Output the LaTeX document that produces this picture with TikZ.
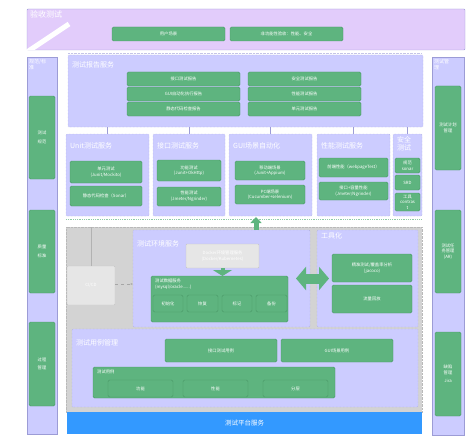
\documentclass[tikz,border=0pt]{standalone}
\usepackage{fontspec}
\setmainfont{Noto Sans CJK SC}
\usepackage{xcolor}
\usepackage{tikz}
\usetikzlibrary{arrows.meta, positioning, fit}
\definecolor{C_ACC} {HTML}{E2CCFB}
\definecolor{C_LAV} {HTML}{CCCCFF}
\definecolor{C_LAVB}{HTML}{9C9CD6}
\definecolor{C_GRN} {HTML}{5EB47F}
\definecolor{C_GRNB}{HTML}{4A9867}
\definecolor{C_GRY} {HTML}{D3D3D3}
\definecolor{C_LGRY}{HTML}{E6E6E6}
\definecolor{C_BLU} {HTML}{3399FF}
\tikzset{
  %% -- every box is placed by its top-left corner --
  arch/base/.style={anchor=north west, inner sep=0pt, outer sep=0pt, align=center},
  %% -- lavender panel --
  arch/panel/.style={arch/base, fill=C_LAV, draw=C_LAVB, densely dotted, rounded corners=1pt},
  %% -- side column --
  arch/col/.style={arch/base, fill=C_LAV, draw=C_LAVB, thin},
  %% -- green service box --
  arch/grn/.style={arch/base, fill=C_GRN, draw=C_GRNB, thin, rounded corners=1.5pt,
    text=white, font=\fontsize{4.3pt}{5.6pt}\selectfont},
  %% -- grey box --
  arch/gry/.style={arch/base, fill=C_LGRY, draw=gray!45, thin, rounded corners=1pt,
    text=white, font=\fontsize{4.3pt}{5.6pt}\selectfont},
  %% -- panel title --
  arch/ttl/.style={anchor=north west, inner sep=0pt, text=white, align=left,
    font=\fontsize{7pt}{8.4pt}\selectfont},
  %% -- small caption inside a green container --
  arch/cap/.style={anchor=north west, inner sep=0pt, text=white, align=left,
    font=\fontsize{4.3pt}{5.2pt}\selectfont},
  %% -- fat green arrow --
  arch/blk/.style={C_GRN, line width=5pt, -{Triangle[width=11pt, length=6pt]}},
  arch/dblk/.style={C_GRN, line width=10pt,
    {Triangle[width=23pt, length=10pt]}-{Triangle[width=23pt, length=10pt]}},
  arch/tick/.style={draw=C_LAVB, thin},
}

\begin{document}
\begin{tikzpicture}[x=1pt, y=-1pt]
\useasboundingbox (0,0) rectangle (474,444);

%% ── Acceptance band ───────────────────────────────────────────────────────
\node[arch/panel, fill=C_ACC, solid, minimum width=438pt, minimum height=41pt] (acc) at (27,9) {};
\begin{scope}
  \clip (acc.south west) rectangle (acc.north east);
  \draw[white, line width=5pt] ([yshift=-2pt]acc.south west) -- ++(42,-28);
\end{scope}
\node[arch/ttl, font=\fontsize{8pt}{9pt}\selectfont] (accT) at ([shift={(3,2)}]acc.north west) {验收测试};
\node[arch/grn, minimum width=113pt, minimum height=14pt] (usr) at (112,27) {用户场景};
\node[arch/grn, minimum width=113pt, minimum height=14pt] (nfr) at (230,27) {非功能性验收：性能、安全};

%% ── Side columns ──────────────────────────────────────────────────────────
\node[arch/col, minimum width=30pt, minimum height=377pt] (std) at (27,57) {};
\node[arch/ttl, font=\fontsize{5pt}{6pt}\selectfont] at ([shift={(2,2)}]std.north west) {规范/标\\准};
\node[arch/grn, minimum width=26pt, minimum height=83pt] (std1) at (29,96) {测试\\[3pt]规范};
\node[arch/grn, minimum width=26pt, minimum height=83pt] (std2) at (29,210) {质量\\[3pt]标准};
\node[arch/grn, minimum width=26pt, minimum height=84pt] (std3) at (29,322) {过程\\[3pt]管理};

\node[arch/col, minimum width=32pt, minimum height=378pt] (mgr) at (432,57) {};
\node[arch/ttl, font=\fontsize{5pt}{6pt}\selectfont] at ([shift={(2,2)}]mgr.north west) {测试管\\理};
\node[arch/grn, minimum width=26pt, minimum height=84pt] (mgr1) at (435,86) {测试计划\\管理};
\node[arch/grn, minimum width=26pt, minimum height=83pt] (mgr2) at (435,210) {测试任\\务管理\\(AR)};
\node[arch/grn, minimum width=26pt, minimum height=84pt] (mgr3) at (435,332) {缺陷\\管理\\[3pt]Jira};

%% ── Test report service ──────────────────────────────────────────────────
\draw[C_LAVB!60, densely dotted] (68,53) -- (422,53);
\node[arch/panel, minimum width=355pt, minimum height=72pt] (rep) at (68,55) {};
\node[arch/ttl] at ([shift={(4,6)}]rep.north west) {测试报告服务};
\node[arch/grn, minimum width=113pt, minimum height=14pt] (rep1) at (127,72)  {接口测试报告};
\node[arch/grn, minimum width=113pt, minimum height=14pt] (rep2) at (127,87)  {GUI自动化执行报告};
\node[arch/grn, minimum width=113pt, minimum height=14pt] (rep3) at (127,102) {静态代码检查报告};
\node[arch/grn, minimum width=113pt, minimum height=14pt] (rep4) at (248,72)  {安全测试报告};
\node[arch/grn, minimum width=113pt, minimum height=14pt] (rep5) at (248,87)  {性能测试报告};
\node[arch/grn, minimum width=113pt, minimum height=14pt] (rep6) at (248,102) {单元测试报告};

%% ── Service row ───────────────────────────────────────────────────────────
\node[arch/panel, minimum width=83pt, minimum height=82pt] (unit) at (66,134) {};
\node[arch/ttl] at ([shift={(4,8)}]unit.north west) {Unit测试服务};
\node[arch/grn, minimum width=72pt, minimum height=22pt] (unit1) at (70,161) {单元测试\\(Junit/Mockito)};
\node[arch/grn, minimum width=72pt, minimum height=20pt] (unit2) at (70,186) {静态代码检查（Sonar）};

\node[arch/panel, minimum width=72pt, minimum height=82pt] (itf) at (153,134) {};
\node[arch/ttl] at ([shift={(4,8)}]itf.north west) {接口测试服务};
\node[arch/grn, minimum width=64pt, minimum height=21pt] (itf1) at (157,160) {功能测试\\(Junit+OkHttp)};
\node[arch/grn, minimum width=64pt, minimum height=19pt] (itf2) at (157,187) {性能测试\\(Jmeter/Ngrinder)};

\node[arch/panel, minimum width=83pt, minimum height=82pt] (gui) at (229,134) {};
\node[arch/ttl] at ([shift={(4,8)}]gui.north west) {GUI场景自动化};
\node[arch/grn, minimum width=70pt, minimum height=19pt] (gui1) at (235,161) {移动端场景\\(Junit+Appium)};
\node[arch/grn, minimum width=70pt, minimum height=19pt] (gui2) at (235,185) {PC端场景\\(Cucumber+selenium)};

\node[arch/panel, minimum width=73pt, minimum height=82pt] (perf) at (317,134) {};
\node[arch/ttl] at ([shift={(4,8)}]perf.north west) {性能测试服务};
\node[arch/grn, minimum width=69pt, minimum height=19pt] (perf1) at (319,158) {前端性能（webpageTest）};
\node[arch/grn, minimum width=69pt, minimum height=18pt] (perf2) at (319,182) {接口+容量性能\\(Jmeter/Ngrinder)};

\node[arch/panel, minimum width=29pt, minimum height=82pt] (sec) at (393,134) {};
\node[arch/ttl] at ([shift={(4,2)}]sec.north west) {安全\\测试};
\node[arch/grn, minimum width=25pt, minimum height=15pt] (sec1) at (395,158) {规范\\sonar};
\node[arch/grn, minimum width=25pt, minimum height=15pt] (sec2) at (395,175) {SRD};
\node[arch/grn, minimum width=25pt, minimum height=18pt] (sec3) at (395,193) {工具\\contras\\t};

%% report -> services
\foreach \s in {unit, itf, gui, perf, sec}
  \draw[arch/tick] (\s.north) -- (\s.north |- rep.south);

%% separator under the service row
\draw[C_GRN!70, thick, densely dotted] ([yshift=-3pt]unit.south west) -- ([yshift=-3pt]sec.south east);

%% ── Grey infrastructure area ──────────────────────────────────────────────
\node[arch/base, fill=C_GRY, draw=gray!55, densely dotted, minimum width=356pt, minimum height=185pt] (infra) at (66,227) {};
\node[arch/gry, minimum width=48pt, minimum height=39pt] (ci) at (67,266) {CI/CD};
\draw[gray!60] (ci.north) -- (ci.north |- infra.north);

%% test environment service
\node[arch/panel, minimum width=177pt, minimum height=97pt] (env) at (133,230) {};
\node[arch/ttl] at ([shift={(4,10)}]env.north west) {测试环境服务};
\node[arch/gry, minimum width=73pt, minimum height=24pt] (dock) at (186,244) {Docker环境管理服务\\(Docker/Kubernetes)};
\node[arch/grn, minimum width=137pt, minimum height=46pt] (data) at (151,276) {};
\node[arch/cap] at ([shift={(4,3)}]data.north west) {测试数据服务\\(mysql/oracle......)};
\node[arch/grn, minimum width=30pt, minimum height=17pt] (dat1) at (153,295) {初始化};
\node[arch/grn, minimum width=31pt, minimum height=17pt] (dat2) at (187,295) {恢复};
\node[arch/grn, minimum width=30pt, minimum height=17pt] (dat3) at (222,295) {标记};
\node[arch/grn, minimum width=31pt, minimum height=17pt] (dat4) at (256,295) {备份};

\draw[gray!70, dashed, -{Stealth[length=2.5pt]}] (ci.east |- 0,284) -- (env.west |- 0,284);
\draw[arch/blk, line width=4pt, -{Triangle[width=19pt, length=6pt]}] (dock.south) -- (dock.south |- data.north);

%% tooling
\node[arch/panel, minimum width=101pt, minimum height=97pt] (tool) at (317,230) {};
\node[arch/ttl] at ([shift={(4,2)}]tool.north west) {工具化};
\node[arch/grn, minimum width=80pt, minimum height=28pt] (tool1) at (332,254) {精准测试/覆盖率分析\\(jacoco)};
\node[arch/grn, minimum width=80pt, minimum height=28pt] (tool2) at (332,285) {流量回放};

\draw[arch/dblk] ([xshift=-14pt]env.east) -- ([xshift=12pt]tool.west);

%% env -> services
\coordinate (upX) at (256,0);
\draw[arch/blk] (env.north -| upX) -- ([yshift=-1pt]gui.south -| upX);

%% test case management
\node[arch/panel, minimum width=346pt, minimum height=78pt] (case) at (72,329) {};
\node[arch/ttl] at ([shift={(4,10)}]case.north west) {测试用例管理};
\node[arch/grn, minimum width=112pt, minimum height=23pt] (case1) at (165,339) {接口测试用例};
\node[arch/grn, minimum width=112pt, minimum height=23pt] (case2) at (281,339) {GUI场景用例};
\node[arch/grn, minimum width=242pt, minimum height=31pt] (cset) at (93,367) {};
\node[arch/cap] at ([shift={(4,3)}]cset.north west) {测试用例};
\node[arch/grn, minimum width=65pt, minimum height=17pt] (cset1) at (108,380) {功能};
\node[arch/grn, minimum width=65pt, minimum height=17pt] (cset2) at (183,380) {性能};
\node[arch/grn, minimum width=65pt, minimum height=17pt] (cset3) at (263,380) {分层};

%% ── Platform bar ──────────────────────────────────────────────────────────
\node[arch/base, fill=C_BLU, text=white, font=\fontsize{6.5pt}{8pt}\selectfont,
      minimum width=355pt, minimum height=22pt] (plat) at (67,412) {测试平台服务};

\end{tikzpicture}
\end{document}
